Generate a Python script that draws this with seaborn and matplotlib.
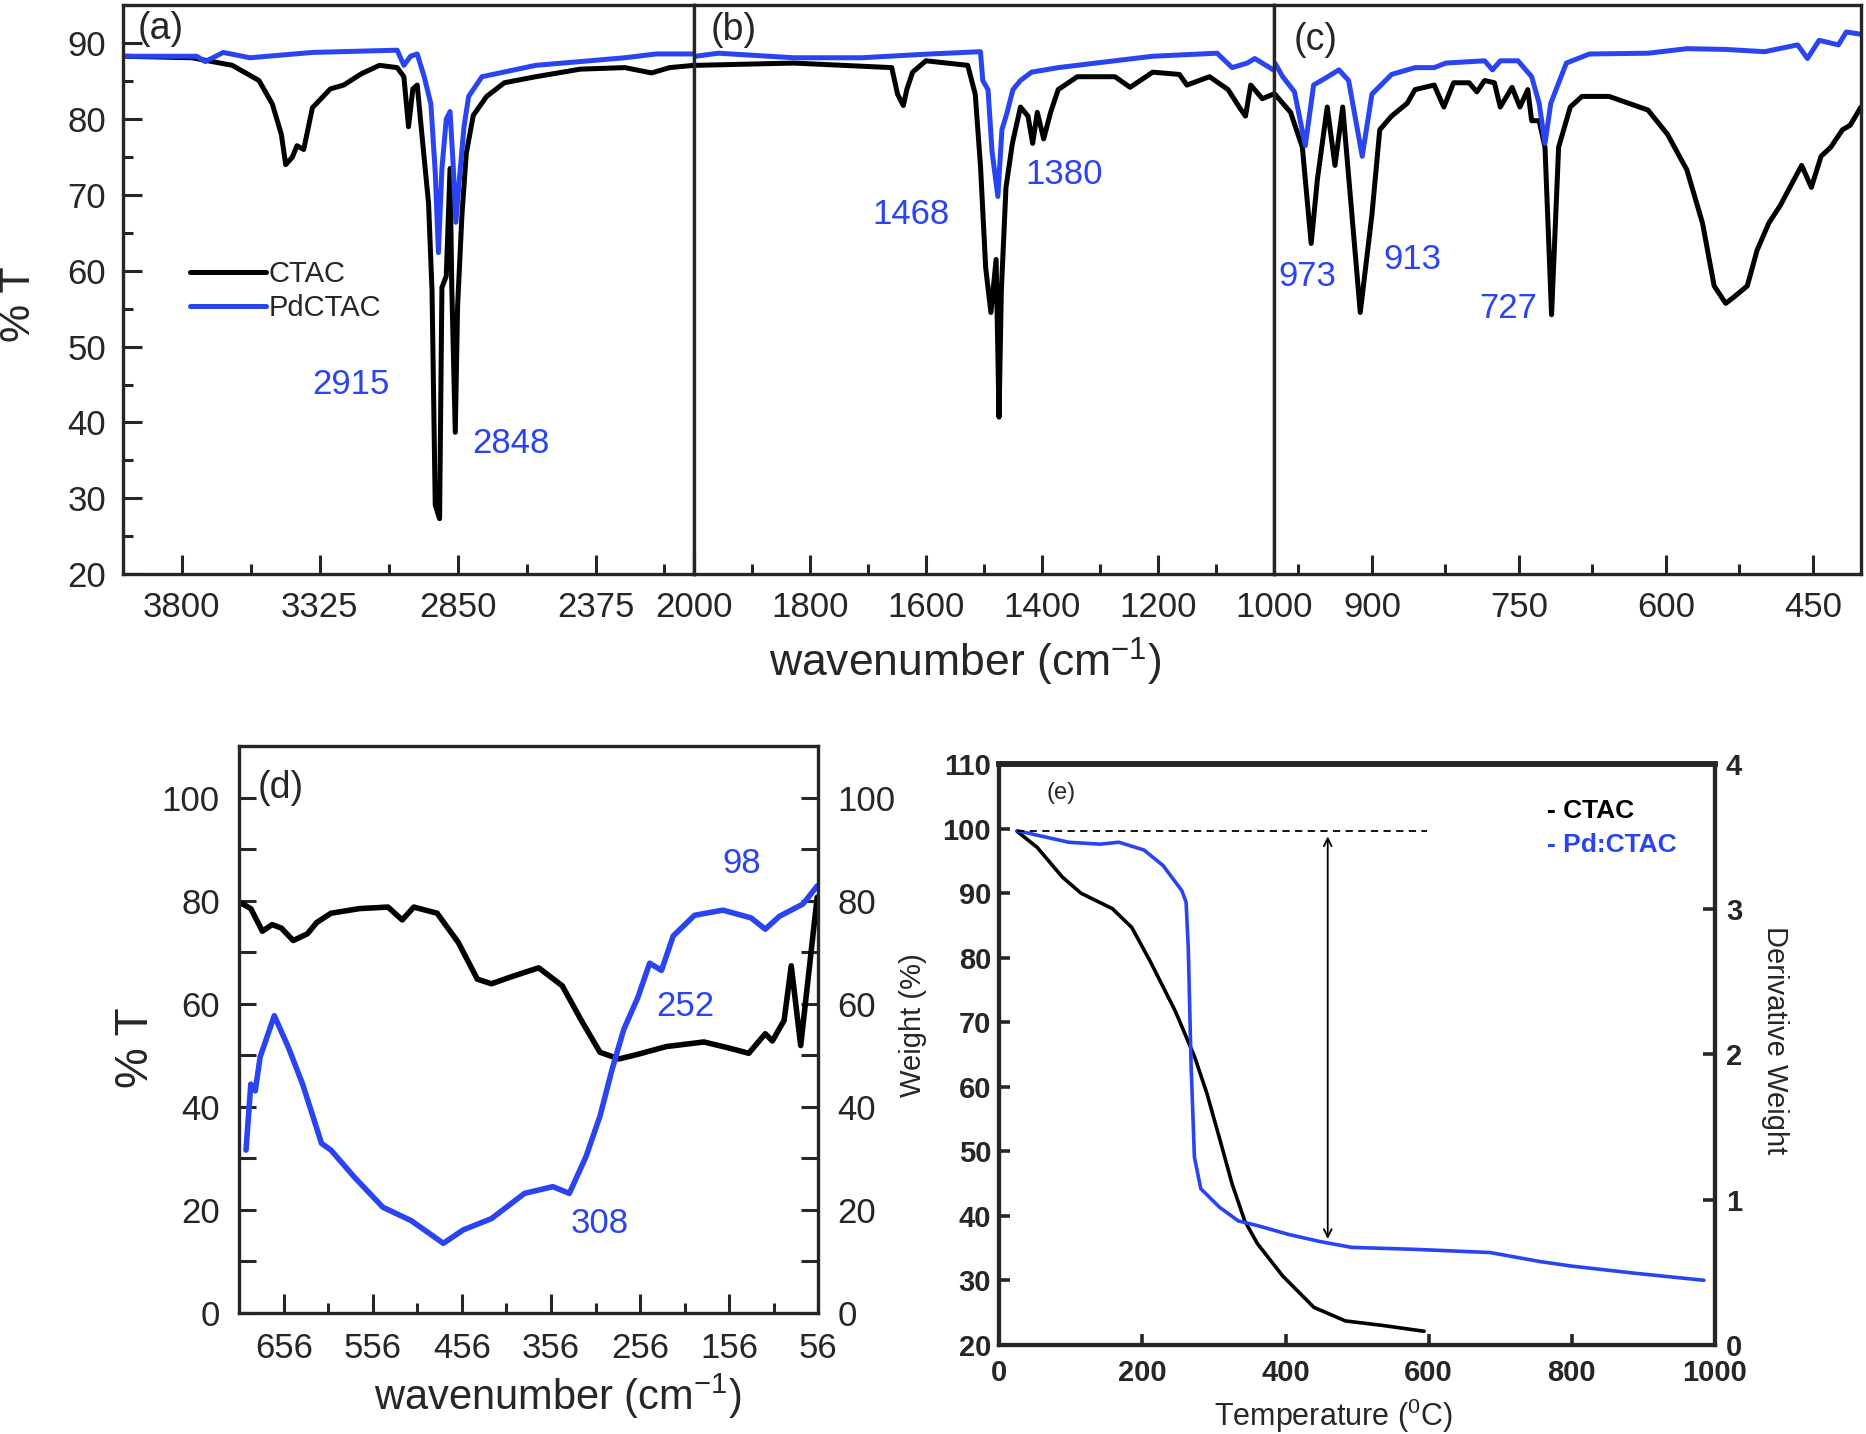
import numpy as np
import pandas as pd
import seaborn as sns
import matplotlib
matplotlib.use("Agg")
import matplotlib.pyplot as plt
from matplotlib.ticker import MultipleLocator, FixedLocator

sns.set_theme(style="ticks")
plt.rcParams['font.family'] = ['Liberation Sans', 'DejaVu Sans']
plt.rcParams['mathtext.fontset'] = 'custom'
plt.rcParams['mathtext.rm'] = 'Liberation Sans'
plt.rcParams['mathtext.it'] = 'Liberation Sans:italic'

BLUE = '#2a44f2'
BLACK = '#000000'

# ---- FTIR panel (a) 4000-2000 cm-1
a_ctac_x = [4003, 3765, 3626, 3534, 3488, 3457, 3442, 3419, 3403, 3380, 3350, 3288, 3242, 3181,
            3119, 3058, 3035, 3019, 3004, 2989, 2973, 2950, 2938, 2927, 2912, 2904, 2889, 2876,
            2870, 2858, 2850, 2835, 2820, 2796, 2750, 2689, 2581, 2427, 2274, 2182, 2120, 2036]
a_ctac_y = [88.3, 88.1, 87.1, 85.1, 82.0, 78.0, 74.0, 75.0, 76.5, 76.0, 81.5, 84.0, 84.5, 86.0,
            87.1, 86.8, 85.6, 79.0, 84.0, 84.5, 78.0, 68.9, 57.3, 29.1, 27.3, 57.8, 59.3, 73.5,
            57.8, 38.7, 55.3, 67.4, 75.5, 80.5, 83.0, 84.8, 85.6, 86.6, 86.8, 86.1, 86.8, 87.1]
a_pd_x = [4003, 3749, 3719, 3657, 3565, 3350, 3058, 3035, 3012, 2989, 2965, 2942, 2927, 2916,
          2904, 2889, 2876, 2866, 2856, 2843, 2828, 2812, 2766, 2581, 2427, 2274, 2167, 2036]
a_pd_y = [88.3, 88.3, 87.6, 88.8, 88.1, 88.8, 89.1, 87.1, 88.3, 88.6, 85.6, 82.0, 73.0, 62.4,
          73.5, 80.0, 81.0, 74.5, 66.4, 72.5, 79.0, 83.0, 85.6, 87.1, 87.6, 88.1, 88.6, 88.6]

# ---- FTIR panel (b) 2000-1000 cm-1
b_ctac_x = [1997, 1828, 1659, 1649, 1639, 1633, 1623, 1600, 1528, 1515, 1506, 1497, 1488, 1479,
            1474, 1470, 1462, 1451, 1437, 1424, 1416, 1408, 1397, 1385, 1372, 1339, 1274, 1248,
            1209, 1163, 1150, 1111, 1079, 1059, 1049, 1040, 1020, 1001]
b_ctac_y = [87.1, 87.4, 86.8, 83.3, 81.8, 83.9, 86.2, 87.7, 87.1, 83.3, 73.9, 60.4, 54.5, 61.5,
            40.7, 57.4, 71.0, 76.8, 81.6, 80.4, 76.8, 80.9, 77.4, 80.9, 83.9, 85.6, 85.6, 84.2,
            86.2, 85.9, 84.5, 85.6, 83.9, 81.5, 80.4, 84.5, 82.7, 83.3]
b_pd_x = [1997, 1958, 1828, 1711, 1593, 1506, 1502, 1493, 1486, 1476, 1469, 1460, 1450, 1437,
          1418, 1372, 1307, 1209, 1098, 1072, 1046, 1033, 1001]
b_pd_y = [88.3, 88.7, 88.1, 88.1, 88.6, 88.9, 85.1, 83.9, 75.7, 69.8, 78.6, 80.9, 83.9, 85.1,
          86.2, 86.8, 87.4, 88.3, 88.7, 86.8, 87.4, 88.0, 86.5]

# ---- FTIR panel (c) 1000-400 cm-1
c_ctac_x = [999, 983, 977, 971, 962, 955.6, 945.6, 937.7, 929.8, 911.9, 900, 892, 880, 864, 856,
            836.5, 826.6, 816.7, 800.8, 792.9, 785, 775, 769, 757, 749, 741, 737, 729.4, 723.4,
            716.7, 709.5, 697.6, 685.7, 658, 618.3, 598.4, 578.6, 562.7, 550.8, 539, 531, 517,
            507, 495, 483.4, 471.5, 461.5, 451.6, 441.7, 431.8, 419.9, 412, 401]
c_ctac_y = [83.3, 80.9, 78.6, 76.3, 63.6, 72.1, 81.6, 73.9, 81.6, 54.5, 67.4, 78.6, 80.4, 82.1,
            83.9, 84.5, 81.6, 84.8, 84.8, 83.6, 85.1, 84.8, 81.6, 84.2, 81.6, 83.9, 79.8, 79.8,
            76.3, 54.2, 76.3, 81.6, 83.0, 83.0, 81.2, 78.0, 73.3, 66.3, 58.0, 55.7, 56.5, 58.0,
            62.7, 66.3, 68.6, 71.5, 73.9, 71.0, 75.1, 76.3, 78.6, 79.2, 81.6]
c_pd_x = [999, 991, 979, 968, 959.5, 947.6, 933.7, 923.8, 909.9, 900, 880, 856, 836.5, 824.6,
          785, 777, 769, 751, 737, 729.4, 723.4, 717.5, 701.6, 678, 618, 578.6, 539, 499.3,
          465.6, 455.6, 443.7, 424, 416, 401]
c_pd_y = [87.4, 85.6, 83.6, 76.5, 84.5, 85.4, 86.5, 85.1, 75.1, 83.3, 85.9, 86.8, 86.8, 87.4,
          87.7, 86.5, 87.7, 87.7, 85.6, 82.1, 76.8, 82.1, 87.4, 88.6, 88.7, 89.3, 89.2, 88.9,
          89.8, 88.0, 90.4, 89.8, 91.5, 91.2]

# ---- far-IR panel (d)
d_ctac_x = [706.3, 693, 680, 669, 658.6, 645.4, 629.5, 619, 603, 571, 539, 523, 510, 483.8, 460,
            438.7, 422.8, 401.6, 369.8, 343.3, 322, 301, 279.7, 258.6, 226.8, 184.4, 157.9, 134,
            115.5, 107.5, 94.3, 86.3, 75.7, 57.2]
d_ctac_y = [79.8, 78.5, 74.1, 75.4, 74.7, 72.3, 73.6, 75.8, 77.6, 78.5, 78.8, 76.3, 78.8, 77.6,
            71.9, 64.8, 63.9, 65.2, 67.0, 63.5, 56.8, 50.6, 49.3, 50.2, 51.7, 52.6, 51.5, 50.4,
            54.2, 52.8, 56.8, 67.4, 51.9, 80.7]
d_pd_x = [698.4, 693, 688, 682.5, 666.6, 650.7, 634.8, 613.6, 603, 576.5, 544.7, 512.9, 476.9,
          454.6, 422.8, 385.7, 353.9, 335.4, 316.8, 301, 287.7, 274.4, 258.6, 245.3, 232, 218.8,
          194.9, 163.1, 131.4, 115.5, 99.6, 73.1, 57.2]
d_pd_y = [31.6, 44.4, 43.1, 49.7, 57.7, 51.5, 44.4, 32.9, 31.6, 26.3, 20.5, 17.9, 13.5, 16.1,
          18.3, 23.2, 24.5, 23.2, 30.3, 38.2, 47.1, 55.0, 61.2, 67.9, 66.5, 73.2, 77.2, 78.2,
          76.7, 74.5, 77.0, 79.4, 82.9]

# ---- TGA panel (e)
e_ctac_t = [24.6, 52.8, 88, 114, 158, 185, 211, 246, 273, 290, 308, 325.4, 343, 360.6, 395.8,
            439.7, 483.7, 536, 593.7]
e_ctac_w = [99.6, 97.1, 92.5, 90.0, 87.6, 84.7, 79.4, 71.7, 64.6, 59.0, 51.9, 44.9, 39.2, 35.7,
            30.7, 25.8, 23.7, 23.0, 22.1]
e_pd_t = [24.6, 96.7, 140.7, 167, 202, 228.7, 255, 261, 264, 268, 272.6, 281.5, 308, 334, 360,
          404.6, 448.5, 492.5, 580, 686, 756, 800, 888, 985]
e_pd_w = [99.7, 97.9, 97.6, 97.9, 96.7, 94.3, 90.4, 88.6, 81.6, 63.2, 49.1, 44.2, 41.3, 39.2,
          38.5, 37.1, 36.0, 35.1, 34.8, 34.3, 32.9, 32.2, 31.1, 30.0]
e_start_w = 99.7
e_dash_end = 598
e_arrow_t = 459
e_arrow_top = 98.8
e_arrow_bottom = 36.4

fig = plt.figure(figsize=(18.66, 14.34), dpi=100)

# ---------------- top row ----------------
axa = fig.add_axes([0.0658, 0.5997, 0.3061, 0.3965])
axb = fig.add_axes([0.3719, 0.5997, 0.3108, 0.3965])
axc = fig.add_axes([0.6827, 0.5997, 0.3146, 0.3965])

LW = 3.6
for ax, cx, cy, px, py in [(axa, a_ctac_x, a_ctac_y, a_pd_x, a_pd_y),
                           (axb, b_ctac_x, b_ctac_y, b_pd_x, b_pd_y),
                           (axc, c_ctac_x, c_ctac_y, c_pd_x, c_pd_y)]:
    sns.lineplot(x=cx, y=cy, ax=ax, color=BLACK, lw=LW, sort=False, estimator=None,
                 label='CTAC' if ax is axa else None)
    sns.lineplot(x=px, y=py, ax=ax, color=BLUE, lw=LW, sort=False, estimator=None,
                 label='PdCTAC' if ax is axa else None)
    ax.set_ylim(20, 95)
    for s in ax.spines.values():
        s.set_linewidth(2.4)
    ax.tick_params(direction='in', which='major', length=14, width=2.2, labelsize=25, pad=12)
    ax.tick_params(direction='in', which='minor', length=7, width=2.2)
    ax.set_xlabel('')
    ax.set_ylabel('')

axa.set_xlim(4003, 2036)
axa.xaxis.set_major_locator(FixedLocator([3800, 3325, 2850, 2375]))
axa.xaxis.set_minor_locator(FixedLocator([3562.5, 3087.5, 2612.5, 2137.5]))
axa.yaxis.set_major_locator(MultipleLocator(10))
axa.yaxis.set_minor_locator(MultipleLocator(5))

axb.set_xlim(2000, 1000)
axb.xaxis.set_major_locator(FixedLocator([2000, 1800, 1600, 1400, 1200, 1000]))
axb.xaxis.set_minor_locator(FixedLocator([1900, 1700, 1500, 1300, 1100]))
axb.set_yticks([])

axc.set_xlim(1000, 401)
axc.xaxis.set_major_locator(FixedLocator([900, 750, 600, 450]))
axc.xaxis.set_minor_locator(FixedLocator([975, 825, 675, 525]))
axc.set_yticks([])

axa.legend(frameon=False, loc='upper left', bbox_to_anchor=(0.118, 0.552), fontsize=21,
           handlelength=2.6, handletextpad=0.1, labelspacing=0.2, borderpad=0, borderaxespad=0)

axa.text(3872, 91.9, '(a)', fontsize=27, ha='center', va='center')
axb.text(1932, 91.8, '(b)', fontsize=27, ha='center', va='center')
axc.text(957.5, 90.4, '(c)', fontsize=27, ha='center', va='center')
for ax, x, y, t in [(axa, 3219, 45.0, '2915'), (axa, 2666, 37.2, '2848'),
                    (axb, 1626, 67.4, '1468'), (axb, 1362, 72.7, '1380'),
                    (axc, 965.5, 59.2, '973'), (axc, 858.3, 61.5, '913'),
                    (axc, 761, 55.0, '727')]:
    ax.text(x, y, t, color=BLUE, fontsize=25, ha='center', va='center')

fig.text(19 / 1866, 1 - 304 / 1434, '% T', rotation=90, fontsize=31, ha='center', va='center')
fig.text(965 / 1866, 1 - 662 / 1434, 'wavenumber (cm$^{-1}$)', fontsize=32,
         ha='center', va='center')

# ---------------- panel (d) ----------------
axd = fig.add_axes([0.1282, 0.0845, 0.3103, 0.395])
sns.lineplot(x=d_ctac_x, y=d_ctac_y, ax=axd, color=BLACK, lw=4, sort=False, estimator=None)
sns.lineplot(x=d_pd_x, y=d_pd_y, ax=axd, color=BLUE, lw=4, sort=False, estimator=None)
axd.set_xlim(706, 56)
axd.set_ylim(0, 110)
axd.xaxis.set_major_locator(FixedLocator([656, 556, 456, 356, 256, 156, 56]))
axd.xaxis.set_minor_locator(FixedLocator([606, 506, 406, 306, 206, 106]))
axd.yaxis.set_major_locator(MultipleLocator(20))
axd.yaxis.set_minor_locator(MultipleLocator(10))
for s in axd.spines.values():
    s.set_linewidth(2.4)
axd.tick_params(axis='y', which='both', direction='in', length=12, width=2.2, labelsize=25,
                left=True, right=True, labelleft=True, labelright=True, pad=14)
axd.tick_params(axis='x', which='major', direction='in', length=14, width=2.2, labelsize=25, pad=14)
axd.tick_params(axis='x', which='minor', direction='in', length=7, width=2.2)
axd.set_xlabel('')
axd.set_ylabel('')
axd.text(685, 102, '(d)', fontsize=27, ha='left', va='center')
for x, y, t in [(142, 87.3, '98'), (205.6, 59.5, '252'), (301, 17.4, '308')]:
    axd.text(x, y, t, color=BLUE, fontsize=25, ha='center', va='center')
fig.text(136 / 1866, 1 - 1048 / 1434, '% T', rotation=90, fontsize=33, ha='center', va='center')
fig.text(558 / 1866, 1 - 1396 / 1434, 'wavenumber (cm$^{-1}$)', fontsize=30,
         ha='center', va='center')

# ---------------- panel (e) ----------------
NARROW = ['Liberation Sans Narrow', 'Liberation Sans', 'DejaVu Sans']
axe = fig.add_axes([0.5356, 0.0622, 0.3833, 0.4049])
sns.lineplot(x=e_ctac_t, y=e_ctac_w, ax=axe, color=BLACK, lw=2.6, sort=False, estimator=None)
sns.lineplot(x=e_pd_t, y=e_pd_w, ax=axe, color=BLUE, lw=2.6, sort=False, estimator=None)
axe.hlines(e_start_w, e_ctac_t[0], e_dash_end, colors=BLACK, linestyles=(0, (4, 3)), lw=1.3)
axe.annotate('', xy=(e_arrow_t, e_arrow_bottom), xytext=(e_arrow_t, e_arrow_top),
             arrowprops=dict(arrowstyle='<->', lw=1.3, color=BLACK, shrinkA=0, shrinkB=0,
                             mutation_scale=14))
axe.set_xlim(0, 1000)
axe.set_ylim(20, 110)
axe.xaxis.set_major_locator(MultipleLocator(200))
axe.yaxis.set_major_locator(MultipleLocator(10))
for s in axe.spines.values():
    s.set_linewidth(3)
axe.spines['top'].set_linewidth(4)
axe.tick_params(direction='in', length=8, width=2.6, labelsize=21, pad=6)
axe.tick_params(axis='x', pad=10)
for lab in axe.get_xticklabels() + axe.get_yticklabels():
    lab.set_family(NARROW)
    lab.set_fontweight('bold')
axe.set_xlabel('')
axe.set_ylabel('')

axe2 = axe.twinx()
axe2.set_ylim(0, 4)
axe2.yaxis.set_major_locator(MultipleLocator(1))
axe2.tick_params(direction='in', length=9, width=2.6, labelsize=21, pad=8)
for lab in axe2.get_yticklabels():
    lab.set_family(NARROW)
    lab.set_fontweight('bold')
for s in axe2.spines.values():
    s.set_linewidth(3)
axe2.spines['top'].set_linewidth(4)

axe.text(86, 105.5, '(e)', fontsize=17, family=NARROW, ha='center', va='center')
axe.text(765, 102.7, '- CTAC', fontsize=19, fontweight='bold', family=NARROW,
         color=BLACK, ha='left', va='center')
axe.text(765, 97.4, '- Pd:CTAC', fontsize=19, fontweight='bold', family=NARROW,
         color=BLUE, ha='left', va='center')

fig.text(913 / 1866, 1 - 1025 / 1434, 'Weight (%)', rotation=90, fontsize=21, family=NARROW,
         ha='center', va='center')
fig.text(1333 / 1866, 1 - 1416 / 1434, 'Temperature ($^{0}$C)', fontsize=22, family=NARROW,
         ha='center', va='center')
fig.text(1775 / 1866, 1 - 1040 / 1434, 'Derivative Weight', rotation=270, fontsize=21,
         family=NARROW, ha='center', va='center')

fig.savefig('out.png', dpi=100, facecolor='white')
